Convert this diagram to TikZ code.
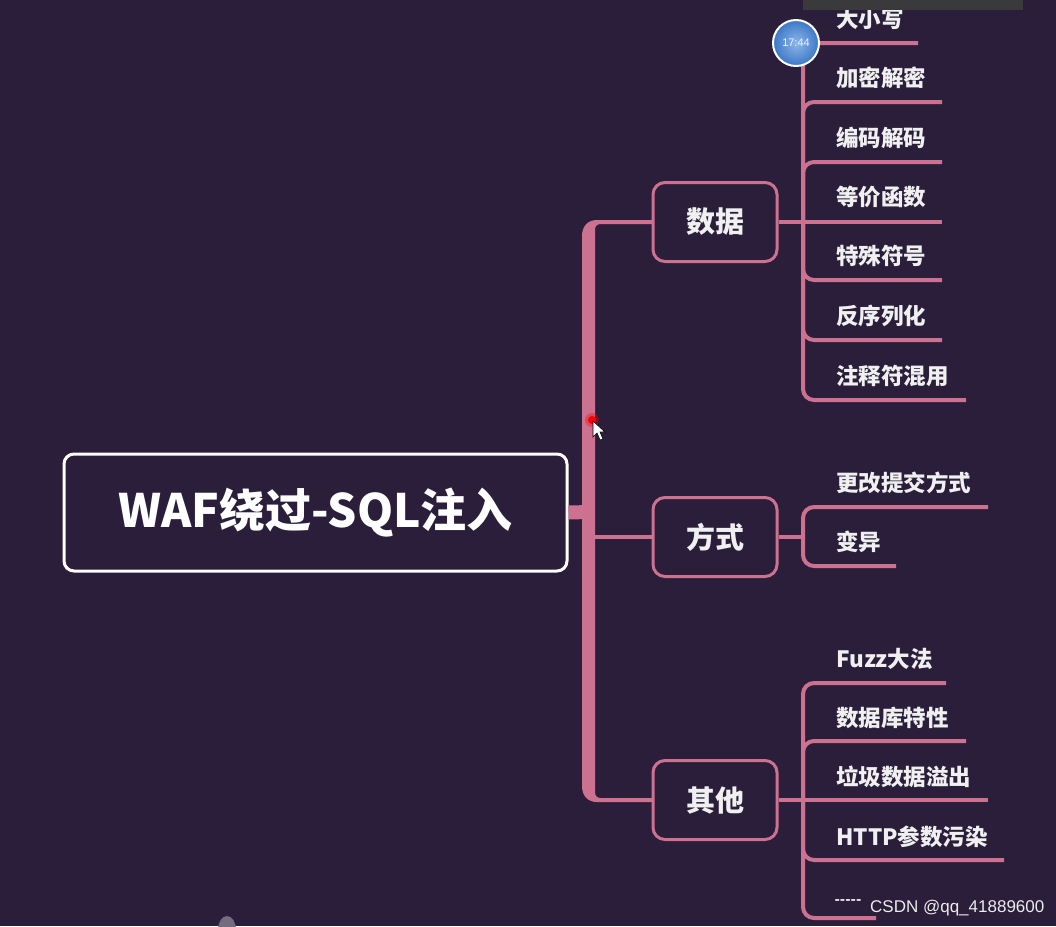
\documentclass[tikz,border=0pt]{standalone}
\usepackage{fontspec}
\setmainfont{Liberation Sans}
\newfontfamily\cjk{Noto Sans CJK SC}
\definecolor{bgcol}{RGB}{42,30,58}
\definecolor{linkpink}{RGB}{205,113,145}
\definecolor{txtwhite}{RGB}{240,240,240}
\definecolor{barcol}{RGB}{58,58,60}
\definecolor{clockblue}{RGB}{66,133,220}
\begin{document}
\begin{tikzpicture}[x=1pt,y=-1pt,
  leafline/.style={draw=linkpink, line width=4pt, rounded corners=11pt},
  leaflabel/.style={anchor=west, text=txtwhite, inner sep=0pt,
    font=\cjk\bfseries\fontsize{22.5}{26}\selectfont},
  topicbox/.style={draw=linkpink, line width=3pt, rounded corners=12pt, fill=bgcol,
    minimum width=124pt, minimum height=79pt, inner sep=0pt, text=txtwhite,
    font=\cjk\bfseries\fontsize{29}{33}\selectfont},
  mainbox/.style={draw=white, line width=3pt, rounded corners=10pt, fill=bgcol,
    minimum width=503pt, minimum height=117pt, inner sep=0pt, text=white,
    font=\cjk\bfseries\fontsize{46}{52}\selectfont}
]
\fill[bgcol] (0,0) rectangle (1056,926);
\useasboundingbox (0,0) rectangle (1056,926);

% trunk
\fill[linkpink] (652,220) -- (597,220) .. controls (588,220) and (582,226) .. (582,236)
  -- (582,786) .. controls (582,796) and (588,802) .. (597,802) -- (652,802) -- (652,798)
  -- (601,798) .. controls (597,798) and (595,796) .. (595,792)
  -- (595,230) .. controls (595,226) and (597,224) .. (601,224) -- (652,224) -- cycle;
\coordinate (trunkmid) at (589,512);
\coordinate (trunkway) at (589,537);

% main and topic nodes
\node[mainbox] (root) at (315.5,512.5) {WAF绕过-SQL注入};
\draw[linkpink, line width=14pt] (root.east) -- (trunkmid);
\draw[linkpink, line width=4pt] (trunkway) -- (652,537);

\node[topicbox] (data) at (715,222) {数据};
\node[topicbox] (way) at (715,537) {方式};
\node[topicbox] (other) at (715,800) {其他};

% data leaves
\coordinate (dj) at (803,222);
\draw[leafline] (data.east) -- (dj);
\coordinate (d1e) at (918,43);
\coordinate (d2e) at (942,102);
\coordinate (d3e) at (942,162);
\coordinate (d4e) at (942,222);
\coordinate (d5e) at (942,280);
\coordinate (d6e) at (942,340);
\coordinate (d7e) at (966,400);
\foreach \e in {d1e,d2e,d3e,d5e,d6e,d7e} \draw[leafline] (dj) |- (\e);
\draw[leafline] (dj) -- (d4e);
\node[leaflabel] (d1) at (836,19) {大小写};
\node[leaflabel] (d2) at (836,78) {加密解密};
\node[leaflabel] (d3) at (836,138) {编码解码};
\node[leaflabel] (d4) at (836,197) {等价函数};
\node[leaflabel] (d5) at (836,256) {特殊符号};
\node[leaflabel] (d6) at (836,316) {反序列化};
\node[leaflabel] (d7) at (836,376) {注释符混用};

% way leaves
\coordinate (wj) at (803,537);
\draw[leafline] (way.east) -- (wj);
\coordinate (w1e) at (988,507);
\coordinate (w2e) at (896,566);
\draw[leafline] (wj) |- (w1e);
\draw[leafline] (wj) |- (w2e);
\node[leaflabel] (w1) at (836,483) {更改提交方式};
\node[leaflabel] (w2) at (836,542) {变异};

% other leaves
\coordinate (oj) at (803,800);
\draw[leafline] (other.east) -- (oj);
\coordinate (o1e) at (946,683);
\coordinate (o2e) at (966,741);
\coordinate (o3e) at (988,800);
\coordinate (o4e) at (1004,860);
\coordinate (o5e) at (876,918);
\foreach \e in {o1e,o2e,o4e,o5e} \draw[leafline] (oj) |- (\e);
\draw[leafline] (oj) -- (o3e);
\node[leaflabel] (o1) at (836,659) {Fuzz大法};
\node[leaflabel] (o2) at (836,718) {数据库特性};
\node[leaflabel] (o3) at (836,777) {垃圾数据溢出};
\node[leaflabel] (o4) at (836,837) {HTTP参数污染};
\node[text=txtwhite, inner sep=0pt, font=\cjk\bfseries\fontsize{14}{16}\selectfont] (o5) at (848,902) {-----};

% overlays
\fill[barcol] (803,0) rectangle (1023,10);
\node[circle, draw=white, line width=2pt, inner color=clockblue!60!white, outer color=clockblue!90!black,
  minimum size=46pt, inner sep=0pt, text=white!90!clockblue, font=\fontsize{11}{12}\selectfont] (clock) at (796,43) {17:44};
\node[anchor=west, inner sep=0pt, text=white!85!gray, font=\fontsize{17}{20}\selectfont] (wm) at (870,908) {CSDN @qq\_41889600};
\fill[red, opacity=0.35] (592,420) circle (7);
\fill[red] (592,420) circle (4);
\filldraw[fill=white, draw=black, line width=0.6pt] (593,421) -- (593,437) -- (597,433) -- (600,440) -- (603,439) -- (600,432) -- (605,432) -- cycle;
\fill[white!35!bgcol] (227,930) ellipse (9 and 14);
\end{tikzpicture}
\end{document}
